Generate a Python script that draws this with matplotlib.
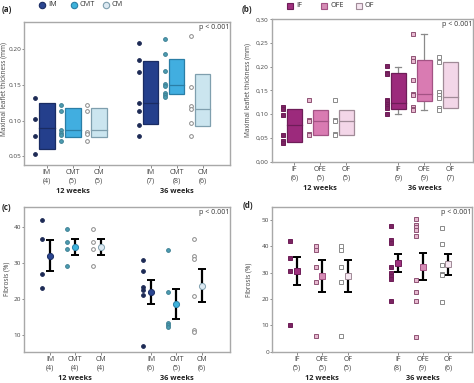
import numpy as np
import matplotlib
matplotlib.use("Agg")
import matplotlib.pyplot as plt
from matplotlib.lines import Line2D
from matplotlib.ticker import FuncFormatter

plt.rcParams['font.family'] = ['Open Sans', 'DejaVu Sans']

# --- data -------------------------------------------------------------
pos = [0, 1, 2, 4, 5, 6]

# (a) maximal leaflet thickness, circles
a_labels = ['IM', 'CMT', 'CM', 'IM', 'CMT', 'CM']
a_n = ['(4)', '(5)', '(5)', '(7)', '(8)', '(6)']
a_points = [
    [0.132, 0.102, 0.078, 0.053],
    [0.122, 0.113, 0.087, 0.083, 0.080, 0.072],
    [0.122, 0.113, 0.084, 0.081, 0.072],
    [0.209, 0.185, 0.168, 0.125, 0.114, 0.094, 0.078],
    [0.214, 0.193, 0.170, 0.151, 0.148, 0.139, 0.136, 0.133],
    [0.218, 0.147, 0.121, 0.116, 0.097, 0.079],
]
a_q1 = [0.060, 0.077, 0.077, 0.095, 0.137, 0.093]
a_med = [0.090, 0.087, 0.087, 0.125, 0.150, 0.117]
a_q3 = [0.125, 0.118, 0.118, 0.184, 0.187, 0.165]

# (b) maximal leaflet thickness, squares
b_labels = ['IF', 'OFE', 'OF', 'IF', 'OFE', 'OF']
b_n = ['(6)', '(5)', '(5)', '(9)', '(9)', '(7)']
b_points = [
    [0.115, 0.110, 0.099, 0.056, 0.044, 0.039],
    [0.130, 0.087, 0.085, 0.058, 0.056],
    [0.130, 0.087, 0.085, 0.058, 0.056],
    [0.201, 0.187, 0.185, 0.130, 0.127, 0.122, 0.118, 0.113, 0.101],
    [0.268, 0.218, 0.213, 0.172, 0.143, 0.140, 0.116, 0.112, 0.108],
    [0.221, 0.209, 0.146, 0.140, 0.134, 0.114, 0.108],
]
b_q1 = [0.042, 0.057, 0.057, 0.112, 0.128, 0.113]
b_med = [0.078, 0.086, 0.086, 0.124, 0.143, 0.137]
b_q3 = [0.110, 0.108, 0.108, 0.186, 0.214, 0.209]
b_wlo = [np.nan, np.nan, np.nan, 0.101, 0.109, np.nan]
b_whi = [np.nan, np.nan, np.nan, 0.200, 0.268, np.nan]

# (c) fibrosis, circles
c_n = ['(4)', '(4)', '(4)', '(6)', '(5)', '(6)']
c_points = [
    [41.8, 36.7, 26.8, 22.9],
    [39.2, 35.8, 33.8, 29.0],
    [39.2, 35.8, 33.8, 29.0],
    [30.8, 27.8, 23.4, 22.4, 21.1, 7.0],
    [33.6, 22.0, 13.2, 12.7, 12.1],
    [36.6, 31.9, 30.9, 20.8, 11.4, 10.9],
]
c_mean = [32.0, 34.3, 34.3, 22.0, 18.6, 23.6]
c_hi = [36.3, 36.5, 36.5, 25.3, 22.7, 28.2]
c_lo = [27.6, 32.2, 32.2, 18.6, 14.4, 19.1]

# (d) fibrosis, squares
d_n = ['(5)', '(5)', '(5)', '(8)', '(9)', '(6)']
d_points = [
    [41.9, 35.4, 30.7, 10.0],
    [40.0, 38.6, 32.3, 26.3, 5.9],
    [40.0, 38.6, 32.3, 26.3, 5.9],
    [47.8, 42.4, 41.1, 32.3, 29.7, 28.7, 27.5, 19.4],
    [50.3, 48.1, 47.2, 46.1, 43.8, 27.3, 22.7, 19.2, 5.7],
    [46.8, 40.7, 32.8, 29.5, 29.0, 19.0],
]
d_mean = [30.7, 28.6, 28.6, 33.5, 32.3, 33.2]
d_hi = [36.1, 34.7, 34.7, 36.9, 37.3, 37.1]
d_lo = [25.2, 22.5, 22.5, 30.1, 27.1, 29.1]

weeks = ['12 weeks', '36 weeks']

# --- styles -----------------------------------------------------------
blue_box = ['#243f8c', '#41aee0', '#cbe5ef']
blue_edge = ['#1a2c63', '#2a7ea6', '#7f9fae']
blue_dot = ['#1d2a55', '#4c9db3', 'white']
blue_dot_edge = ['#1d2a55', '#3c7f92', '#8a8a8a']
blue_mean = ['#2b4691', '#3db2db', '#dce9f2']

pink_box = ['#9c2a7c', '#d97bb2', '#f3d6e8']
pink_edge = ['#6e1d58', '#a35384', '#a08a97']
pink_dot = ['#7b2462', '#e6b8cf', 'white']
pink_dot_edge = ['#6e1d58', '#8e5274', '#8a8a8a']
pink_mean = ['#a0317f', '#d58cb5', '#f5e6f0']

FS = 5.0
frame_col = '#a8a8a8'

fig = plt.figure(figsize=(4.74, 3.83), dpi=100)
W, H = 474.0, 383.0


def add_ax(l, r, t, b):
    return fig.add_axes([l / W, 1 - b / H, (r - l) / W, (b - t) / H])


def style(ax, labels, ns, xlim, ylim):
    ax.set_xlim(*xlim)
    ax.set_ylim(*ylim)
    ax.set_xticks(pos)
    ax.set_xticklabels([f'{l}\n{n}' for l, n in zip(labels, ns)],
                       fontsize=FS, color='#444444', linespacing=1.3)
    for s in ax.spines.values():
        s.set_color(frame_col)
        s.set_linewidth(1.0)
    ax.tick_params(axis='x', length=1.8, width=0.6, color='#777777',
                   labelsize=FS, labelcolor='#444444', pad=1.2)
    ax.tick_params(axis='y', length=1.5, width=0.6, color='#777777',
                   labelsize=4.6, labelcolor='#444444', pad=0.8)
    for x, w in zip([1, 5], weeks):
        ax.annotate(w, xy=(x, 0), xycoords=('data', 'axes fraction'),
                    xytext=(0, -16.5), textcoords='offset points',
                    ha='center', va='top', fontsize=FS + 0.3,
                    fontweight='bold', color='#222222')
    ax.text(0.995, 0.985, 'p < 0.001', transform=ax.transAxes, ha='right',
            va='top', fontsize=FS, color='#333333')


def boxes(ax, q1, med, q3, box_c, edge_c, wlo=None, whi=None):
    for i, x in enumerate(pos):
        g = i % 3
        ax.bar(x, q3[i] - q1[i], bottom=q1[i], width=0.6, color=box_c[g],
               edgecolor=edge_c[g], linewidth=0.9, zorder=2)
        ax.plot([x - 0.3, x + 0.3], [med[i], med[i]], color=edge_c[g],
                lw=0.9, zorder=3)
        if wlo is not None and not np.isnan(wlo[i]):
            ax.plot([x, x], [whi[i], q3[i]], color='#8a8a8a', lw=0.9, zorder=1)
            ax.plot([x, x], [q1[i], wlo[i]], color='#8a8a8a', lw=0.9, zorder=1)
            for yv in (wlo[i], whi[i]):
                ax.plot([x - 0.12, x + 0.12], [yv, yv], color='#8a8a8a',
                        lw=0.9, zorder=1)


def dots(ax, pts, off, marker, fc, ec, ms):
    for i, x in enumerate(pos):
        g = i % 3
        ax.plot([x + off] * len(pts[i]), pts[i], ls='none', marker=marker,
                ms=ms, mfc=fc[g], mec=ec[g], mew=0.7, zorder=4)


def means(ax, m, lo, hi, marker, fc, ec, ms):
    for i, x in enumerate(pos):
        g = i % 3
        ax.errorbar(x, m[i], yerr=[[m[i] - lo[i]], [hi[i] - m[i]]], fmt='none',
                    ecolor='black', elinewidth=1.6, capsize=2.6,
                    capthick=1.4, zorder=3)
        ax.plot(x, m[i], marker=marker, ms=ms, mfc=fc[g], mec=ec[g],
                mew=0.7, ls='none', zorder=5)


YL = dict(fontsize=4.7, color='#444444')

# (a)
ax_a = add_ax(24.3, 230, 21.7, 165)
boxes(ax_a, a_q1, a_med, a_q3, blue_box, blue_edge)
dots(ax_a, a_points, -0.45, 'o', blue_dot, blue_dot_edge, 2.7)
style(ax_a, a_labels, a_n, (-0.87, 7.06), (0.038, 0.2385))
ax_a.set_yticks([0.05, 0.10, 0.15, 0.20])
ax_a.yaxis.set_major_formatter(FuncFormatter(lambda v, p: f'{v:.2f}'))
ax_a.set_ylabel('Maximal leaflet thickness (mm)', **YL)
ax_a.yaxis.set_label_coords(-0.084, 0.53)

# (b)
ax_b = add_ax(272, 473, 19.3, 161.7)
boxes(ax_b, b_q1, b_med, b_q3, pink_box, pink_edge, b_wlo, b_whi)
dots(ax_b, b_points, -0.45, 's', pink_dot, pink_dot_edge, 2.5)
style(ax_b, b_labels, b_n, (-0.86, 6.87), (0.0, 0.30))
ax_b.set_yticks(np.arange(0, 0.31, 0.05))
ax_b.yaxis.set_major_formatter(
    FuncFormatter(lambda v, p: f'{v:.2f}'.replace('.', ',')))
ax_b.set_ylabel('Maximal leaflet thickness (mm)', **YL)
ax_b.yaxis.set_label_coords(-0.1, 0.5)

# (c)
ax_c = add_ax(24.3, 230, 206.7, 351.7)
dots(ax_c, c_points, -0.32, 'o', blue_dot, blue_dot_edge, 2.7)
means(ax_c, c_mean, c_lo, c_hi, 'o', blue_mean, blue_edge, 4.4)
style(ax_c, a_labels, c_n, (-1.02, 7.12), (5.4, 45.5))
ax_c.set_yticks([10, 20, 30, 40])
ax_c.set_ylabel('Fibrosis (%)', **YL)
ax_c.yaxis.set_label_coords(-0.065, 0.5)

# (d)
ax_d = add_ax(272.3, 472.3, 207.3, 351.7)
dots(ax_d, d_points, -0.27, 's', pink_dot, pink_dot_edge, 2.5)
means(ax_d, d_mean, d_lo, d_hi, 's', pink_mean, pink_edge, 4.4)
style(ax_d, b_labels, d_n, (-0.99, 6.95), (0, 54.8))
ax_d.set_yticks([0, 10, 20, 30, 40, 50])
ax_d.set_ylabel('Fibrosis (%)', **YL)
ax_d.yaxis.set_label_coords(-0.1, 0.5)

# panel letters
for x, y, s in [(2, 9, '(a)'), (242, 9, '(b)'), (2, 207, '(c)'), (243, 206, '(d)')]:
    fig.text(x / W, 1 - y / H, s, fontsize=FS + 0.8, fontweight='bold',
             ha='left', va='center', color='#222222')

# legends
for lab, x, g in zip(['IM', 'CMT', 'CM'], [42, 74, 105.7], range(3)):
    fig.lines.append(Line2D([x / W], [1 - 4.5 / H], marker='o', ms=4.6,
                            mfc=blue_mean[g], mec=blue_edge[g], mew=0.8,
                            ls='none', transform=fig.transFigure))
    fig.text((x + 6) / W, 1 - 4.5 / H, lab, fontsize=FS + 0.2, va='center',
             ha='left', color='#333333')

for lab, x, g in zip(['IF', 'OFE', 'OF'], [290.3, 324.3, 358.7], range(3)):
    fig.lines.append(Line2D([x / W], [1 - 5.5 / H], marker='s', ms=4.0,
                            mfc=pink_mean[g], mec=pink_edge[g], mew=0.8,
                            ls='none', transform=fig.transFigure))
    fig.text((x + 6) / W, 1 - 5.5 / H, lab, fontsize=FS + 0.2, va='center',
             ha='left', color='#333333')

fig.savefig('out.png', dpi=100)
